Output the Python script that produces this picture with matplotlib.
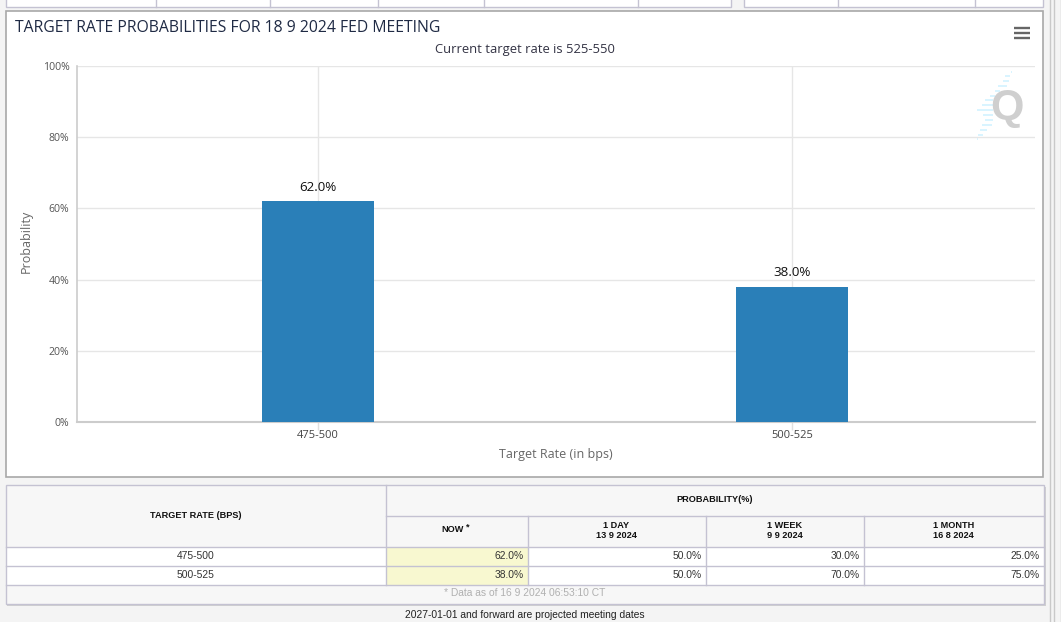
import numpy as np
import matplotlib
matplotlib.use('Agg')
import matplotlib.pyplot as plt
from matplotlib.patches import Rectangle

W, H = 1061, 622

rates = ['475-500', '500-525']
probs = [62.0, 38.0]
y_ticks = [0, 20, 40, 60, 80, 100]

col_heads = [('NOW', ''), ('1 DAY', '13 9 2024'), ('1 WEEK', '9 9 2024'), ('1 MONTH', '16 8 2024')]
now_col = ['62.0%', '38.0%']
day_col = ['50.0%', '50.0%']
week_col = ['30.0%', '70.0%']
month_col = ['25.0%', '75.0%']

top_cell_edges = [155, 269, 377, 483, 637, 837, 974]

plt.rcParams['font.family'] = ['Open Sans', 'DejaVu Sans']
bg = '#f4f4f4'
line = '#c4c2d2'
arial = 'Liberation Sans'

fig = plt.figure(figsize=(W / 100, H / 100), dpi=100, facecolor=bg)

# page furniture, drawn in pixel coordinates
pg = fig.add_axes([0, 0, 1, 1], zorder=0)
pg.set_xlim(0, W)
pg.set_ylim(H, 0)
pg.axis('off')

# bits of the table above the chart
pg.add_patch(Rectangle((5.5, -2), 725, 9, fc='white', ec=line, lw=1))
pg.add_patch(Rectangle((743.5, -2), 299.5, 9, fc='white', ec=line, lw=1))
for x in top_cell_edges:
    pg.plot([x + 0.5, x + 0.5], [0, 7], color=line, lw=1)
for x in [1049, 1053, 1060]:
    pg.plot([x + 0.5, x + 0.5], [0, H], color='#c9c9c9', lw=1)

# chart panel
pg.add_patch(Rectangle((5.5, 10.5), 1037, 466, fc='white', ec='#a8a8a8', lw=1.2))
pg.text(15, 27.5, 'TARGET RATE PROBABILITIES FOR 18 9 2024 FED MEETING', fontsize=11.35,
        color='#1f2a44', va='center', ha='left')
pg.text(524.5, 49.5, 'Current target rate is 525-550', fontsize=9.4, color='#333344', va='center', ha='center')

# menu icon
for y in [28.3, 32.8, 37.8]:
    pg.plot([1014, 1030], [y, y], color='#666666', lw=1.7, solid_capstyle='butt')

# watermark
for y, x0, x1 in [(72, 1011, 1012), (76, 1005, 1010), (81, 1003, 1009), (86, 998, 1007), (91, 995, 1000),
                  (96, 990, 995), (100, 985, 993), (105, 982, 993), (110, 977, 993), (115, 983, 993),
                  (120, 985, 993), (125, 982, 992), (130, 980, 987), (135, 978, 983), (139, 977, 978)]:
    pg.plot([x0, x1], [y, y], color='#d8f4ff', lw=1.4, solid_capstyle='butt')
pg.text(1007, 108.5, 'Q', fontsize=31, fontweight='bold', family=arial, color='#cfcfcf', ha='center', va='center')

# chart
x_left, x_right, y_top, y_bot = 77, 1035, 66, 422
ax = fig.add_axes([x_left / W, 1 - y_bot / H, (x_right - x_left) / W, (y_bot - y_top) / H], zorder=2)
ax.patch.set_alpha(0)
xpos = np.arange(len(rates))
ax.bar(xpos, probs, width=0.236, color='#2a7fb8', zorder=3)
for x, p in zip(xpos, probs):
    ax.text(x, p + 2.1, '%.1f%%' % p, ha='center', va='bottom', fontsize=9.6, color='#111111')
ax.set_xlim(-0.508, 1.513)
ax.set_ylim(0, 100)
ax.set_yticks(y_ticks)
ax.set_yticklabels(['%d%%' % t for t in y_ticks])
ax.set_xticks(xpos)
ax.set_xticklabels(rates)
ax.grid(True, color='#e6e6e6', lw=1, zorder=0)
ax.set_axisbelow(True)
ax.tick_params(axis='y', length=0, pad=5.5, labelsize=7.6, labelcolor='#555555')
ax.tick_params(axis='x', length=5.5, width=1, color='#e0e0e0', pad=0.5, labelsize=8, labelcolor='#444444')
for s in ['top', 'right']:
    ax.spines[s].set_visible(False)
ax.spines['left'].set_color('#cccccc')
ax.spines['bottom'].set_color('#cccccc')
ax.spines['bottom'].set_linewidth(1.5)
ax.spines['left'].set_linewidth(1.2)
ax.set_xlabel('Target Rate (in bps)', fontsize=9, color='#666666', labelpad=5)
ax.set_ylabel('Probability', fontsize=9, color='#666666', labelpad=7, y=0.507)

# table under the chart
cols = [5.5, 385.5, 527.5, 705.5, 863.5, 1043.5]
rows = [484.5, 515.5, 546.5, 565.5, 584.5, 603.5]
pg.add_patch(Rectangle((7, 487), 1039, 119, fc='#c8c8c8', ec='none', alpha=0.8))
pg.add_patch(Rectangle((cols[0], rows[0]), cols[-1] - cols[0], rows[-1] - rows[0], fc='#f7f7f7', ec='none'))
pg.add_patch(Rectangle((cols[0], rows[2]), cols[-1] - cols[0], rows[4] - rows[2], fc='white', ec='none'))
pg.add_patch(Rectangle((cols[1], rows[2]), cols[2] - cols[1], rows[4] - rows[2], fc='#f8f8d0', ec='none'))
pg.add_patch(Rectangle((cols[0], rows[0]), cols[-1] - cols[0], rows[-1] - rows[0], fc='none', ec=line, lw=1))
for y in rows[2:5]:
    pg.plot([cols[0], cols[-1]], [y, y], color=line, lw=1)
pg.plot([cols[1], cols[-1]], [rows[1], rows[1]], color=line, lw=1)
pg.plot([cols[1], cols[1]], [rows[0], rows[4]], color=line, lw=1)
for x in cols[2:5]:
    pg.plot([x, x], [rows[1], rows[4]], color=line, lw=1)

hd = dict(family=arial, fontsize=6.6, fontweight='bold', color='#111111', ha='center', va='center')
pg.text((cols[0] + cols[1]) / 2, 515.2, 'TARGET RATE (BPS)', **hd)
pg.text((cols[1] + cols[-1]) / 2, 499.8, 'PROBABILITY(%)', **hd)
for i, (a, b) in enumerate(col_heads):
    xc = (cols[i + 1] + cols[i + 2]) / 2
    if b:
        pg.text(xc, 525, a, **hd)
        pg.text(xc, 536, b, **hd)
    else:
        pg.text(xc - 4, 530, a, **hd)
        pg.text(xc + 11, 527, '*', **hd)

cell = dict(family=arial, fontsize=7.4, color='#333333', va='center')
for r, rate in enumerate(rates):
    yc = (rows[r + 2] + rows[r + 3]) / 2
    pg.text((cols[0] + cols[1]) / 2, yc, rate, ha='center', **cell)
    for c, vals in enumerate([now_col, day_col, week_col, month_col]):
        pg.text(cols[c + 2] - 4, yc, vals[r], ha='right', **cell)

pg.text(524.5, 593.2, '* Data as of 16 9 2024 06:53:10 CT', family=arial, fontsize=7.4, color='#b0b0b0',
        ha='center', va='center')
pg.text(524.5, 615.2, '2027-01-01 and forward are projected meeting dates', family=arial, fontsize=7.4,
        color='#222222', ha='center', va='center')

fig.savefig('out.png', dpi=100, facecolor=fig.get_facecolor())
